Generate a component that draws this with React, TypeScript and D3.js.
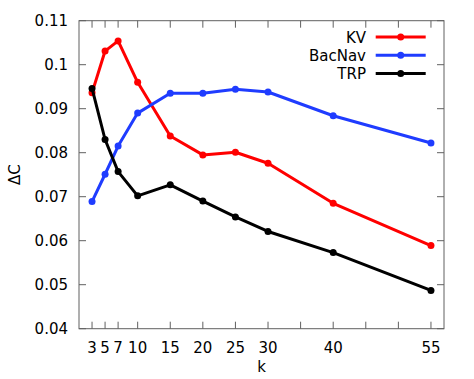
import React from "react";
import * as d3 from "d3";

const kValues = [3, 5, 7, 10, 15, 20, 25, 30, 40, 55];
const kvValues = [0.0936, 0.1031, 0.1054, 0.096, 0.0838, 0.0795, 0.0801, 0.0776, 0.0685, 0.0589];
const bacNavValues = [0.0689, 0.0751, 0.0815, 0.089, 0.0935, 0.0935, 0.0944, 0.0938, 0.0884, 0.0822];
const trpValues = [0.0946, 0.083, 0.0757, 0.0702, 0.0727, 0.069, 0.0654, 0.0621, 0.0573, 0.0487];
const xTickValues = [3, 5, 7, 10, 15, 20, 25, 30, 35, 40, 45, 50, 55];
const xTickLabels = ["3", "5", "7", "10", "15", "20", "25", "30", "", "40", "", "", "55"];
const yTickValues = [0.04, 0.05, 0.06, 0.07, 0.08, 0.09, 0.1, 0.11];
const yTickLabels = ["0.04", "0.05", "0.06", "0.07", "0.08", "0.09", "0.1", "0.11"];
const seriesNames = ["KV", "BacNav", "TRP"];
const seriesColors = ["#ff0000", "#1f3cff", "#000000"];

export default function App() {
  const W = 474, H = 379;
  const left = 79, right = 444, top = 20.7, bottom = 328.7;
  const x = d3.scaleLinear().domain([1, 57]).range([left, right]);
  const y = d3.scaleLinear().domain([0.04, 0.11]).range([bottom, top]);
  const series = [kvValues, bacNavValues, trpValues];
  const line = d3.line<number>().x((_, i) => x(kValues[i])).y((d) => y(d));
  const axisColor = "#606060";
  const font = "DejaVu Sans, sans-serif";
  const tick = 7;
  return (
    <svg width={W} height={H} style={{ position: "absolute", left: 0, top: 0, background: "#fff" }}>
      <rect x={0} y={0} width={W} height={H} fill="#fff" />
      {/* frame */}
      <rect x={left} y={top} width={right - left} height={bottom - top} fill="none" stroke={axisColor} strokeWidth={1} />
      {xTickValues.map((v, i) => (
        <g key={"xt" + i}>
          <line x1={x(v)} x2={x(v)} y1={bottom} y2={bottom - tick} stroke={axisColor} strokeWidth={1} />
          <line x1={x(v)} x2={x(v)} y1={top} y2={top + tick} stroke={axisColor} strokeWidth={1} />
          {xTickLabels[i] && (
            <text x={x(v)} y={353} fontSize={15} fontFamily={font} textAnchor="middle" fill="#000">
              {xTickLabels[i]}
            </text>
          )}
        </g>
      ))}
      {yTickValues.map((v, i) => (
        <g key={"yt" + i}>
          <line x1={left} x2={left + tick} y1={y(v)} y2={y(v)} stroke={axisColor} strokeWidth={1} />
          <line x1={right} x2={right - tick} y1={y(v)} y2={y(v)} stroke={axisColor} strokeWidth={1} />
          <text x={68} y={y(v) + 5.5} fontSize={15} fontFamily={font} textAnchor="end" fill="#000">
            {yTickLabels[i]}
          </text>
        </g>
      ))}
      <text x={(left + right) / 2} y={372} fontSize={15} fontFamily={font} textAnchor="middle" fill="#000">
        k
      </text>
      <text transform={`translate(20,${(top + bottom) / 2}) rotate(-90)`} fontSize={15} fontFamily={font} textAnchor="middle" fill="#000">
        ΔC
      </text>
      {series.map((s, si) => (
        <g key={"s" + si}>
          <path d={line(s) || ""} fill="none" stroke={seriesColors[si]} strokeWidth={3} strokeLinejoin="round" />
          {s.map((v, i) => (
            <circle key={i} cx={x(kValues[i])} cy={y(v)} r={3.5} fill={seriesColors[si]} />
          ))}
        </g>
      ))}
      {seriesNames.map((n, i) => (
        <g key={"lg" + i}>
          <text x={366} y={42.7 + i * 18.2} fontSize={15} fontFamily={font} textAnchor="end" fill="#000">
            {n}
          </text>
          <line x1={375.7} x2={425.7} y1={37 + i * 18.2} y2={37 + i * 18.2} stroke={seriesColors[i]} strokeWidth={3} />
          <circle cx={400.7} cy={37 + i * 18.2} r={3.5} fill={seriesColors[i]} />
        </g>
      ))}
    </svg>
  );
}
